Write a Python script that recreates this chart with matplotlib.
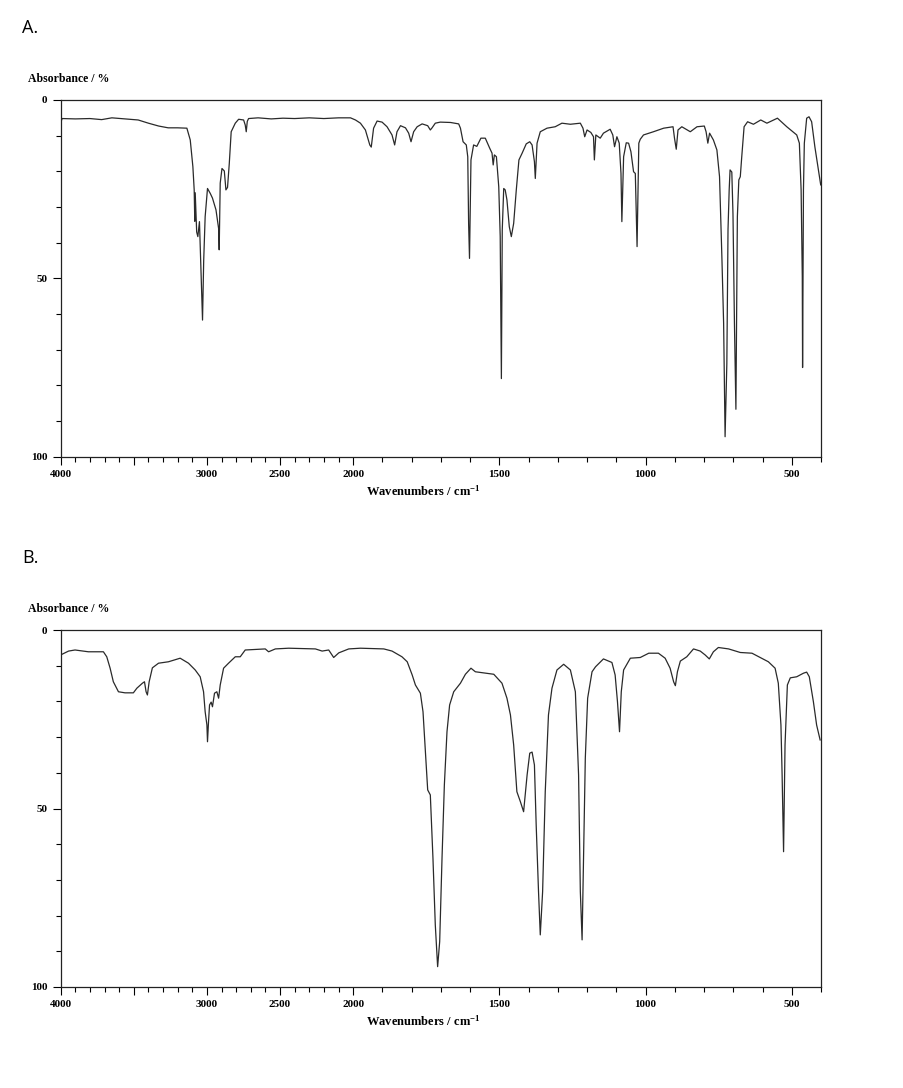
import numpy as np
import matplotlib
matplotlib.use("Agg")
import matplotlib.pyplot as plt
from matplotlib.ticker import FixedLocator, NullFormatter

# spectrum A (wavenumber cm-1, absorbance %)
wn_a = [4000, 3990, 3900, 3800, 3720, 3650, 3560, 3470, 3400, 3330, 3265, 3200,
        3137, 3114, 3096, 3087, 3083, 3080, 3070, 3062, 3051, 3039, 3030, 3022,
        3012, 2996, 2977, 2962, 2938, 2920, 2916, 2909, 2897, 2881, 2870, 2859,
        2847, 2834, 2806, 2783, 2749, 2738, 2731, 2724, 2715, 2650, 2560, 2480,
        2400, 2300, 2200, 2100, 2018, 1992, 1975, 1958, 1943, 1938, 1930, 1918,
        1901, 1884, 1867, 1858, 1850, 1838, 1821, 1810, 1802, 1793, 1781, 1764,
        1745, 1736, 1730, 1719, 1702, 1667, 1639, 1633, 1624, 1613, 1608, 1605,
        1602, 1597, 1588, 1577, 1563, 1548, 1533, 1525, 1521, 1517, 1510, 1502,
        1497, 1493, 1490, 1485, 1480, 1474, 1466, 1459, 1451, 1442, 1433, 1422,
        1408, 1396, 1388, 1380, 1377, 1371, 1360, 1337, 1309, 1286, 1257, 1223,
        1214, 1208, 1200, 1187, 1178, 1175, 1170, 1155, 1144, 1121, 1112, 1106,
        1098, 1090, 1084, 1081, 1075, 1066, 1058, 1050, 1041, 1035, 1029, 1023,
        1018, 1007, 973, 938, 906, 901, 895, 889, 876, 847, 824, 799, 793, 787,
        781, 768, 756, 747, 739, 733, 728, 722, 718, 714, 711, 705, 701, 696,
        691, 688, 686, 681, 676, 671, 663, 651, 631, 606, 585, 549, 517, 483,
        474, 468, 464, 463, 460, 457, 449, 441, 432, 421, 409, 401]
abs_a = [6.3, 5.2, 5.3, 5.2, 5.5, 5.0, 5.3, 5.6, 6.5, 7.3, 7.8, 7.8,
         7.9, 11.2, 18.7, 25.2, 34, 26, 37, 38.3, 34.1, 49.5, 61.7, 45,
         32.7, 24.8, 26.2, 27.5, 30.8, 36, 42, 23.3, 19.2, 19.9, 25.2, 24.5,
         17.8, 8.9, 6.5, 5.4, 5.6, 7, 8.9, 6, 5.2, 5.0, 5.3, 5.1,
         5.2, 5.0, 5.2, 5.0, 5.0, 5.6, 6.5, 8.4, 12.6, 13.2, 7.9, 5.9,
         6.2, 7.5, 9.8, 12.6, 8.9, 7.2, 7.8, 9.3, 11.7, 8.9, 7.5, 6.7,
         7.2, 8.4, 7.8, 6.5, 6.2, 6.3, 6.7, 7.9, 11.7, 12.6, 15.9, 34.8,
         44.4, 16.8, 12.6, 13, 10.7, 10.7, 13.5, 14.9, 18.2, 15.4, 15.9, 24.3,
         38.3, 78.1, 36.4, 24.8, 25.2, 28, 35.5, 38.3, 34.6, 25.2, 16.8, 14.9,
         12.3, 11.7, 12.6, 17.3, 22, 12.1, 8.9, 7.9, 7.5, 6.5, 6.8, 6.5,
         7.9, 10.3, 8.4, 9.1, 10.3, 16.8, 9.8, 10.7, 9.3, 8.2, 9.8, 13.1,
         10.3, 12.1, 20.6, 34.1, 15.9, 12.0, 12.1, 14.5, 20.1, 20.6, 41.1, 12.1,
         11, 9.8, 8.9, 7.9, 7.5, 10.7, 13.8, 8.4, 7.5, 8.9, 7.5, 7.3, 8.9, 12.1,
         9.3, 11.2, 14, 21.5, 43.9, 62.6, 94.4, 73.9, 36.4, 25.2, 19.6, 20.2, 32, 62.6,
         86.7, 53.3, 32.7, 22.4, 21.5, 15.9, 7.5, 6.1, 6.8, 5.6, 6.5, 5.1, 7.5, 9.8,
         12.1, 25.2, 49.5, 75, 25.2, 12.1, 5.1, 4.7, 6.1, 13.1, 19.6, 23.8]

# spectrum B
wn_b = [4000, 3991, 3946, 3902, 3811, 3708, 3685, 3662, 3640, 3605, 3560, 3503,
        3479, 3441, 3427, 3416, 3407, 3395, 3373, 3331, 3263, 3183, 3126, 3080,
        3046, 3023, 3012, 3000, 2996, 2989, 2982, 2971, 2962, 2948, 2932, 2920,
        2909, 2886, 2852, 2806, 2772, 2738, 2601, 2578, 2532, 2441, 2258, 2212,
        2167, 2133, 2098, 2030, 1975, 1895, 1867, 1833, 1815, 1798, 1787, 1770,
        1761, 1753, 1745, 1736, 1727, 1719, 1711, 1704, 1696, 1688, 1679, 1670,
        1656, 1633, 1616, 1597, 1582, 1554, 1519, 1491, 1474, 1462, 1451, 1440,
        1428, 1417, 1405, 1396, 1388, 1380, 1374, 1366, 1360, 1352, 1343, 1332,
        1320, 1303, 1280, 1257, 1240, 1229, 1223, 1217, 1212, 1206, 1198, 1183,
        1171, 1144, 1115, 1104, 1096, 1089, 1083, 1075, 1052, 1018, 989, 956,
        933, 916, 904, 898, 891, 881, 859, 836, 813, 796, 782, 768,
        751, 716, 676, 636, 608, 580, 557, 546, 537, 533, 528, 523,
        515, 505, 483, 460, 449, 440, 426, 415, 403]
abs_b = [7.0, 6.8, 5.9, 5.6, 6.1, 6.1, 7.5, 10.7, 14.5, 17.3, 17.6, 17.6,
         16.3, 14.9, 14.5, 17.3, 18.2, 14.5, 10.6, 9.3, 8.9, 7.9, 9.3, 11.2,
         13.1, 17.3, 22.9, 26.6, 31.3, 25.7, 21, 20.2, 21.5, 17.7, 17.3, 19.1,
         15.4, 10.7, 9.3, 7.5, 7.5, 5.6, 5.3, 6.1, 5.3, 5.1, 5.3, 5.9,
         5.6, 7.7, 6.4, 5.3, 5.1, 5.3, 5.9, 7.5, 8.9, 12.6, 15.4, 17.7,
         22.9, 34.1, 44.8, 46.2, 63.9, 82.6, 94.3, 87.3, 63.9, 43.4, 28.5, 21,
         17.3, 14.9, 12.4, 10.7, 11.7, 12.0, 12.4, 14.9, 19.1, 23.8, 32.2, 45.3,
         48.1, 50.9, 40.6, 34.5, 34.2, 37.8, 54.6, 73.3, 85.4, 73.3, 45.3, 23.8,
         16.3, 11.2, 9.6, 11.2, 17.3, 40.6, 73.3, 86.8, 63.9, 35.9, 19.1, 11.7,
         10.3, 8.1, 9.1, 12.6, 20.1, 28.5, 17.3, 11.2, 7.9, 7.7, 6.5, 6.5,
         7.9, 10.7, 14.5, 15.6, 11.7, 8.7, 7.5, 5.3, 5.9, 7.0, 8.1, 6.1,
         4.9, 5.3, 6.3, 6.5, 7.7, 8.9, 10.7, 14.9, 26.6, 40.6, 62.1, 32.2,
         15.4, 13.4, 13.1, 12.1, 11.8, 13.1, 20.1, 26.6, 30.8]

major_ticks = [4000, 3500, 3000, 2500, 2000, 1500, 1000, 500]
major_labels = ["4000", "", "3000", "2500", "2000", "1500", "1000", "500"]

plt.rcParams["mathtext.fontset"] = "custom"
plt.rcParams["mathtext.rm"] = "Liberation Serif:bold"
plt.rcParams["mathtext.default"] = "rm"

serif = "Liberation Serif"


# wavenumber axis: half scale above 2000 cm-1
def fwd(w):
    w = np.asarray(w, dtype=float)
    return np.where(w > 2000, 2000 + (w - 2000) / 2, w)


def inv(t):
    t = np.asarray(t, dtype=float)
    return np.where(t > 2000, 2000 + 2 * (t - 2000), t)


fig = plt.figure(figsize=(9.04, 10.88), dpi=100)
W, H = 904, 1088


def panel(top_px, bottom_px, wn, ab, letter, letter_y, title_y, xlab_y):
    ax = fig.add_axes([60.7 / W, 1 - bottom_px / H, (821 - 60.7) / W, (bottom_px - top_px) / H])
    ax.plot(wn, ab, color="#2a2a2a", lw=0.9)
    ax.set_xscale("function", functions=(fwd, inv))
    ax.set_xlim(4000, 400)
    ax.set_ylim(100, 0)
    ax.xaxis.set_major_locator(FixedLocator(major_ticks))
    ax.xaxis.set_minor_locator(FixedLocator(list(range(400, 4001, 100))))
    ax.xaxis.set_minor_formatter(NullFormatter())
    ax.set_xticklabels(major_labels)
    ax.set_yticks([0, 50, 100])
    ax.set_yticks(list(range(0, 101, 10)), minor=True)
    ax.tick_params(which="major", length=5.5, width=0.8, direction="out", pad=4)
    ax.tick_params(which="minor", length=3.5, width=0.8, direction="out")
    for lab in ax.get_xticklabels() + ax.get_yticklabels():
        lab.set_fontfamily(serif)
        lab.set_fontweight("bold")
        lab.set_fontsize(8)
    for s in ax.spines.values():
        s.set_linewidth(0.9)
        s.set_color("#222222")
    fig.text(22 / W, 1 - letter_y / H, letter, fontsize=13, family="Open Sans",
             ha="left", va="center")
    fig.text(28 / W, 1 - title_y / H, "Absorbance / %", fontsize=8.5, family=serif,
             weight="bold", ha="left", va="center")
    fig.text(423 / W, 1 - xlab_y / H, "Wavenumbers / cm$^{-1}$", fontsize=9,
             family=serif, weight="bold", ha="center", va="center")
    return ax


panel(100, 456.7, wn_a, abs_a, "A.", 28, 79, 491)
panel(630, 987, wn_b, abs_b, "B.", 558, 609, 1021)

fig.savefig("out.png", dpi=100)
